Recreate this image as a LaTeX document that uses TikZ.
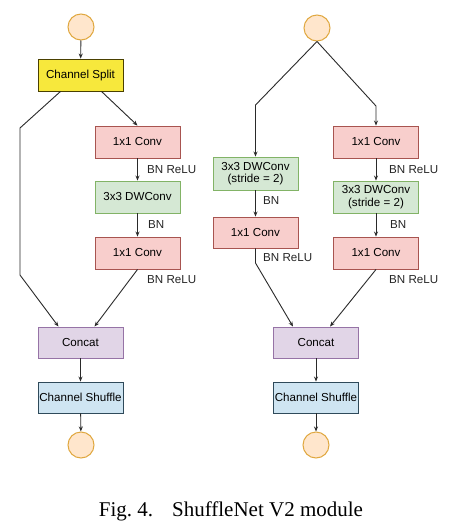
\documentclass[tikz,border=0pt]{standalone}
\usepackage{fontspec}
\setmainfont{Liberation Serif}
\newfontfamily\diagfont{Liberation Sans}
\usetikzlibrary{arrows.meta}
\definecolor{circfill}{HTML}{FFE6CC}
\definecolor{circdraw}{HTML}{E0A840}
\definecolor{splitfill}{HTML}{F7E83C}
\definecolor{splitdraw}{HTML}{4A4000}
\definecolor{pinkfill}{HTML}{F8CECC}
\definecolor{pinkdraw}{HTML}{A85450}
\definecolor{greenfill}{HTML}{D5E8D4}
\definecolor{greendraw}{HTML}{82B366}
\definecolor{purpfill}{HTML}{E1D5E7}
\definecolor{purpdraw}{HTML}{9673A6}
\definecolor{bluefill}{HTML}{CFE5F2}
\definecolor{bluedraw}{HTML}{2F4A5A}
\definecolor{linec}{HTML}{2A2A2A}
\begin{document}
\begin{tikzpicture}[x=1pt,y=-1pt,
  every node/.style={font=\diagfont\fontsize{11.6}{12.5}\selectfont, inner sep=0pt},
  blk/.style={rectangle, minimum width=85pt, minimum height=32pt, line width=0.9pt, align=center},
  splitbox/.style={blk, fill=splitfill, draw=splitdraw},
  convbox/.style={blk, fill=pinkfill, draw=pinkdraw},
  dwbox/.style={blk, fill=greenfill, draw=greendraw},
  catbox/.style={blk, fill=purpfill, draw=purpdraw, minimum height=31pt},
  shufbox/.style={blk, fill=bluefill, draw=bluedraw, minimum height=31pt},
  io/.style={circle, minimum size=26pt, fill=circfill, draw=circdraw, line width=1pt},
  arr/.style={draw=linec, line width=0.9pt, -{Stealth[length=5pt,width=4pt]}},
  lbl/.style={anchor=west, text=black!85},
]
\useasboundingbox (0,0) rectangle (462,522);
\fill[white] (0,0) rectangle (462,522);

% ---------- left module ----------
\node[io] (c1) at (81,27) {};
\node[splitbox] (split) at (80.5,75) {Channel Split};
\node[convbox] (conv1a) at (137.5,142) {1x1 Conv};
\node[dwbox] (dw1) at (137.5,197) {3x3 DWConv};
\node[convbox] (conv1b) at (137.5,253) {1x1 Conv};
\node[catbox] (cat1) at (80.5,342.5) {Concat};
\node[shufbox] (shuf1) at (80.5,397.5) {Channel Shuffle};
\node[io] (c2) at (81,445) {};

\coordinate (l1) at (20,128);
\coordinate (l2) at (20,275);

\draw[arr] (c1) -- (split);
\draw[arr] ([xshift=-20pt]split.south) -- (l1) -- (l2) -- ([xshift=-22pt]cat1.north);
\draw[arr] ([xshift=21pt]split.south) -- (conv1a.north);
\draw[arr] (conv1a) -- (dw1);
\draw[arr] (dw1) -- (conv1b);
\draw[arr] (conv1b.south) -- ([xshift=14pt]cat1.north);
\draw[arr] (cat1) -- (shuf1);
\draw[arr] (shuf1) -- (c2);

\node[lbl] (t1) at (147,170) {BN ReLU};
\node[lbl] (t2) at (148,225) {BN};
\node[lbl] (t3) at (147,280) {BN ReLU};

% ---------- right module ----------
\node[io] (c3) at (317,28) {};
\node[dwbox, minimum height=33pt] (dw2a) at (255.5,173.5) {3x3 DWConv\\(stride = 2)};
\node[convbox, minimum height=31pt] (conv2a) at (255.5,232.5) {1x1 Conv};
\node[convbox] (conv2b) at (376,142) {1x1 Conv};
\node[dwbox] (dw2b) at (376,197) {3x3 DWConv\\(stride = 2)};
\node[convbox] (conv2c) at (376,253) {1x1 Conv};
\node[catbox] (cat2) at (316,342.5) {Concat};
\node[shufbox] (shuf2) at (316,397.5) {Channel Shuffle};
\node[io] (c4) at (316,445) {};

\coordinate (a1) at (255.5,105);
\coordinate (a2) at (255.5,263);
\coordinate (b1) at (376,106);

\draw[arr] (c3.south) -- (a1) -- (dw2a.north);
\draw[arr] (dw2a) -- (conv2a);
\draw[arr] (conv2a.south) -- (a2) -- ([xshift=-23pt]cat2.north);
\draw[arr] (c3.south) -- (b1) -- (conv2b.north);
\draw[arr] (conv2b) -- (dw2b);
\draw[arr] (dw2b) -- (conv2c);
\draw[arr] (conv2c.south) -- ([xshift=14pt]cat2.north);
\draw[arr] (cat2) -- (shuf2);
\draw[arr] (shuf2) -- (c4);

\node[lbl] (t4) at (263,201) {BN};
\node[lbl] (t5) at (263,258) {BN ReLU};
\node[lbl] (t6) at (389,170) {BN ReLU};
\node[lbl] (t7) at (390,225) {BN};
\node[lbl] (t8) at (389,280) {BN ReLU};

% ---------- caption ----------
\node[font=\fontsize{21}{23}\selectfont, anchor=base] (cap) at (231,516) {Fig.~4.\hspace{0.9em}ShuffleNet V2 module};
\end{tikzpicture}
\end{document}
